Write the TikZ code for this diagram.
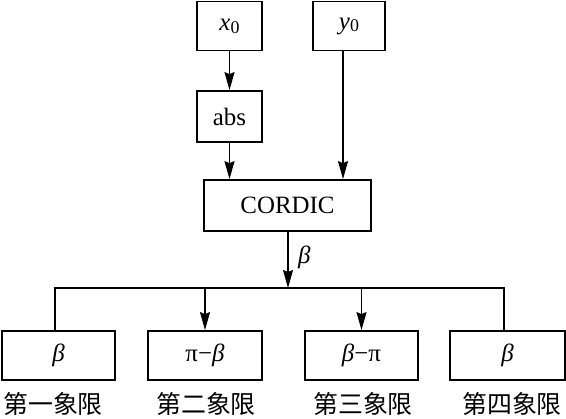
\documentclass[tikz,border=0pt]{standalone}
\usepackage{fontspec}
\setmainfont{Liberation Serif}
\newfontfamily\cjk{Noto Sans CJK SC}
\usetikzlibrary{arrows.meta}
\begin{document}
\begin{tikzpicture}[x=1bp,y=-1bp,
  box/.style={draw,line width=1.8bp,inner sep=0pt,font=\fontsize{25}{28}\selectfont},
  conn/.style={line width=1.5bp},
  arr/.style={conn,-{Stealth[length=18bp,width=10bp,inset=2bp]}},
  lab/.style={font=\cjk\fontsize{25}{27}\selectfont,inner sep=0pt}]
\useasboundingbox (0,0) rectangle (566,418);
\node[box,minimum width=65bp,minimum height=49bp] (x0) at (229.5,26) {\textit{x}\raisebox{-0.25ex}{\fontsize{18}{19}\selectfont 0}};
\node[box,minimum width=72bp,minimum height=49bp] (y0) at (349,26) {\textit{y}\raisebox{-0.25ex}{\fontsize{18}{19}\selectfont 0}};
\node[box,minimum width=65bp,minimum height=51bp] (abs) at (229.5,116.5) {abs};
\node[box,minimum width=167bp,minimum height=51bp] (cordic) at (287.5,205.5) {CORDIC};
\node[box,minimum width=113bp,minimum height=49bp] (b1) at (58.5,355.5) {\textit{β}};
\node[box,minimum width=114bp,minimum height=49bp] (b2) at (205,355.5) {π−\textit{β}};
\node[box,minimum width=113bp,minimum height=49bp] (b3) at (361.5,355.5) {\textit{β}−π};
\node[box,minimum width=115bp,minimum height=49bp] (b4) at (507.5,355.5) {\textit{β}};
\node[lab] (l1) at (53,404) {第一象限};
\node[lab] (l2) at (206,404) {第二象限};
\node[lab] (l3) at (363,404) {第三象限};
\node[lab] (l4) at (512,404) {第四象限};
\coordinate (ya) at (343,0);
\coordinate (ba) at (288,0);
\coordinate (hl) at (0,288);
\coordinate (c1) at (55,0);
\coordinate (c4) at (504,0);
\draw[arr] (x0.south) -- (abs.north);
\draw[arr] (abs.south -| x0.south) -- (cordic.north -| x0.south);
\draw[arr] (ya |- y0.south) -- (ya |- cordic.north);
\draw[arr] (ba |- cordic.south) -- node[right=6bp,pos=0.45,font=\fontsize{25}{28}\selectfont]{\textit{β}} (ba |- hl);
\draw[conn] (c1 |- b1.north) -- (c1 |- hl) -- (c4 |- hl) -- (c4 |- b4.north);
\draw[arr] (b2.north |- hl) -- (b2.north);
\draw[arr] (b3.north |- hl) -- (b3.north);
\end{tikzpicture}
\end{document}
